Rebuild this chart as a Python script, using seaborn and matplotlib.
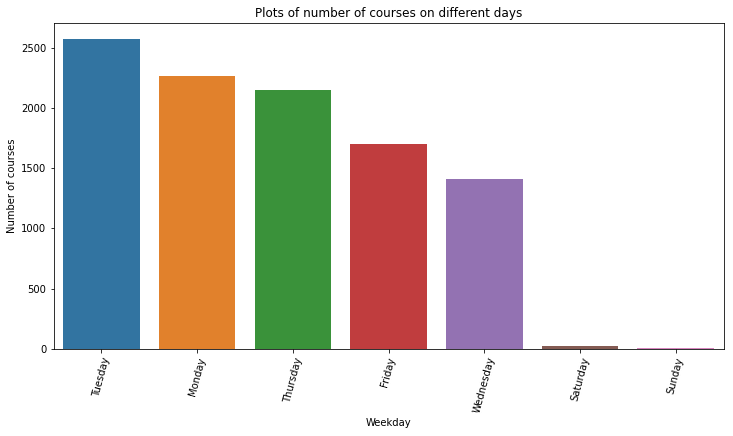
import matplotlib

matplotlib.use("Agg")

import matplotlib.pyplot as plt
import pandas as pd
import seaborn as sns

days = ["Tuesday", "Monday", "Thursday", "Friday", "Wednesday", "Saturday", "Sunday"]
counts = [2575, 2268, 2144, 1697, 1407, 25, 8]

frame = pd.DataFrame({"Weekday": days, "count": counts})

plt.rcParams["font.family"] = ["DejaVu Sans"]
fig = plt.figure(figsize=(733 / 72, 436 / 72), dpi=72)
ax = fig.add_axes([53.5 / 733, 1 - 349 / 436, 670 / 733, 326 / 436])
sns.barplot(data=frame, x="Weekday", y="count", hue="Weekday", palette="tab10",
            saturation=0.75, legend=False, ax=ax)
ax.set_title("Plots of number of courses on different days", fontsize=12)
ax.set_xlabel("Weekday")
ax.set_ylabel("Number of courses")
ax.tick_params(axis="x", rotation=75)
fig.savefig("out.png", dpi=72)
